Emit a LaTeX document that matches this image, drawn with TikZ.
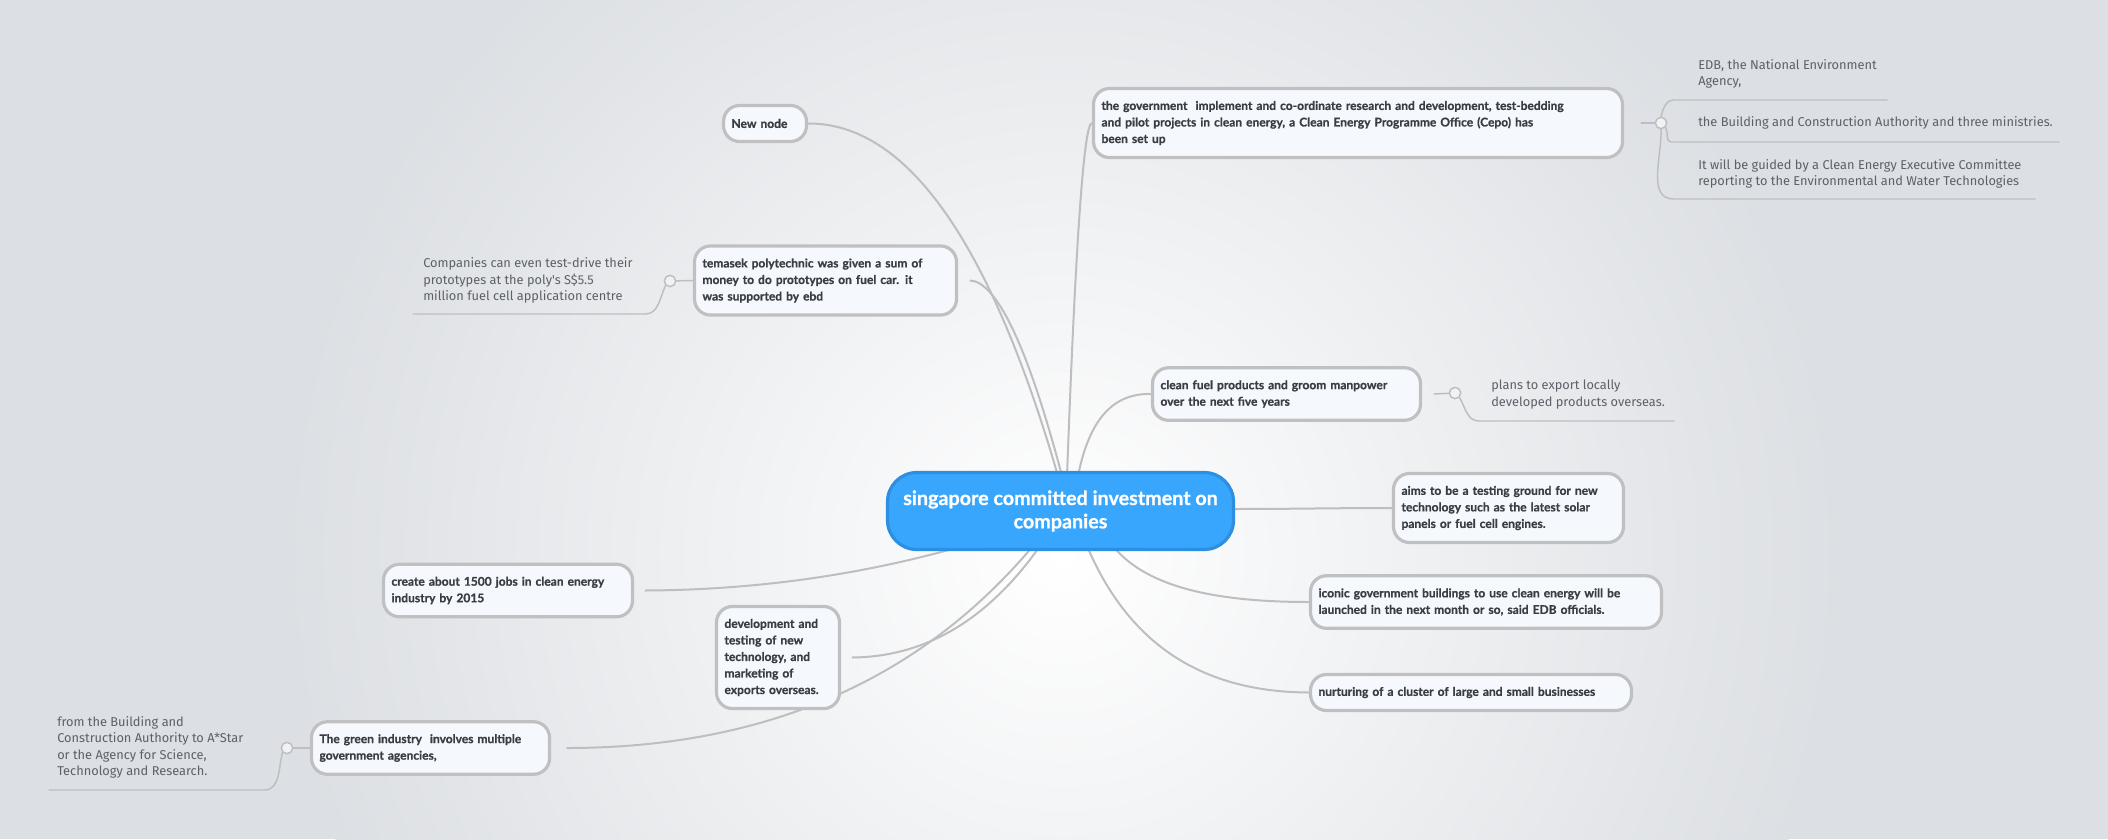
\documentclass[tikz,border=0pt]{standalone}
\usepackage{fontspec}
\newfontfamily\topicfont{Lato}[BoldFeatures={FakeBold=0.8}]
\newfontfamily\leaffont{Fira Sans}
\usetikzlibrary{positioning}
\definecolor{bgcol}{RGB}{220,223,227}
\definecolor{linkcol}{RGB}{190,190,192}
\definecolor{topicfill}{RGB}{245,249,254}
\definecolor{topicdraw}{RGB}{192,192,194}
\definecolor{topictext}{RGB}{58,62,68}
\definecolor{rootfill}{RGB}{56,166,252}
\definecolor{rootdraw}{RGB}{45,143,226}
\definecolor{leaftext}{RGB}{92,97,104}
\pgfdeclarelayer{bg}
\pgfdeclarelayer{links}
\pgfsetlayers{bg,links,main}

\begin{document}
\begin{tikzpicture}[
  x=0.75pt,
  y=-0.75pt,
  line cap=round,
  line join=round,
  topic/.style={draw=topicdraw,line width=2.4pt,fill=topicfill,rounded corners=12pt,
    text=topictext,font=\topicfont\bfseries\fontsize{9}{12.4}\selectfont,
    align=left,inner xsep=6pt,inner ysep=2pt},
  nlines/.style={minimum height=#1*12.4pt+14.6pt},
  roottopic/.style={draw=rootdraw,line width=2.4pt,fill=rootfill,rounded corners=22pt,
    text=white,font=\topicfont\bfseries\fontsize{14.8}{17.5}\selectfont,
    align=center,minimum width=259.5pt,minimum height=57.75pt},
  link/.style={linkcol,line width=1.5pt},
  leafline/.style={linkcol,line width=1.1pt},
  leaf/.style={anchor=west,align=left,inner sep=0pt,text=leaftext,
    font=\leaffont\fontsize{9.6}{12.4}\selectfont},
  knob/.style={circle,draw=linkcol,line width=1.1pt,fill=bgcol!40!white,
    minimum size=8.5pt,inner sep=0pt}
]
\path[use as bounding box] (0,0) rectangle (2108,839);

% background glow
\begin{pgfonlayer}{bg}
\fill[bgcol] (0,0) rectangle (2108,839);
\clip (0,0) rectangle (2108,839);
\shade[inner color=white,outer color=bgcol] (1062,555) circle[radius=780];
\end{pgfonlayer}

% central topic
\node[roottopic] (root) at (1060.5,511)
  {singapore committed investment on\\companies};

% main topics
\node[topic,nlines=1,text width=50.25pt] (newnode) at (765,123.5) {New node};
\node[topic,nlines=3,text width=184.5pt] (temasek) at (825.5,280.5)
  {temasek polytechnic was given a sum of\\money to do prototypes on fuel car. it\\was supported by ebd};
\node[topic,nlines=3,text width=384.75pt] (govt) at (1358,123)
  {the government~ implement and co-ordinate research and development, test-bedding\\and pilot projects in clean energy, a Clean Energy Programme Office (Cepo) has\\been set up};
\node[topic,nlines=2,text width=189pt] (cleanfuel) at (1286.5,394)
  {clean fuel products and groom manpower\\over the next five years};
\node[topic,nlines=3,text width=160.5pt] (aims) at (1508.5,508)
  {aims to be a testing ground for new\\technology such as the latest solar\\panels or fuel cell engines.};
\node[topic,nlines=2,text width=251.25pt] (iconic) at (1486,602)
  {iconic government buildings to use clean energy will be\\launched in the next month or so, said EDB officials.};
\node[topic,nlines=1,text width=228.75pt] (nurturing) at (1471,692.5)
  {nurturing of a cluster of large and small businesses};
\node[topic,nlines=2,text width=174.75pt] (create) at (508,590.5)
  {create about 1500 jobs in clean energy\\industry by 2015};
\node[topic,nlines=5,text width=80.25pt] (develop) at (778,657.5)
  {development and\\testing of new\\technology, and\\marketing of\\exports overseas.};
\node[topic,nlines=2,text width=166.5pt] (green) at (430.5,748)
  {The green industry~ involves multiple\\government agencies,};

% sub-topics
\node[leaf] (comp) at (423,280.5)
  {Companies can even test-drive their\\prototypes at the poly's S\$5.5\\million fuel cell application centre};
\node[leaf] (edb) at (1698,74) {EDB, the National Environment\\Agency,};
\node[leaf] (bca) at (1698,123)
  {the Building and Construction Authority and three ministries.};
\node[leaf] (guided) at (1698,174)
  {It will be guided by a Clean Energy Executive Committee\\reporting to the Environmental and Water Technologies};
\node[leaf] (plans) at (1491,394.5) {plans to export locally\\developed products overseas.};
\node[leaf] (gleaf) at (57,747.5)
  {from the Building and\\Construction Authority to A*Star\\or the Agency for Science,\\Technology and Research.};

% attach points
\coordinate (rtnew) at (1058,476);
\coordinate (rttem) at (1062,476);
\coordinate (rtgov) at (1067,476);
\coordinate (rtfuel) at (1078,476);
\coordinate (rtaims) at (1230,509);
\coordinate (rtcreate) at (963,546);
\coordinate (rtgreen) at (1033,546);
\coordinate (rtdev) at (1040,546);
\coordinate (rtnurt) at (1087,546);
\coordinate (rticon) at (1113,546);
\coordinate (temasekout) at ([xshift=8.7pt]temasek.east);
\coordinate (createout) at ([xshift=8pt]create.east);
\coordinate (developout) at ([xshift=8pt]develop.east);
\coordinate (greenout) at ([xshift=11.7pt]green.east);
\coordinate (govtout) at ([xshift=12.75pt]govt.east);
\coordinate (fuelout) at ([xshift=9pt]cleanfuel.east);

\coordinate (compa) at (645,314);   \coordinate (compb) at (413,314);
\coordinate (edba) at (1674,100);   \coordinate (edbb) at (1887,100);
\coordinate (bcaa) at (1671,142);   \coordinate (bcab) at (2059,142);
\coordinate (guida) at (1674,199);  \coordinate (guidb) at (2035,199);
\coordinate (plana) at (1479,421);  \coordinate (planb) at (1674,421);
\coordinate (gleafa) at (264,790);  \coordinate (gleafb) at (49,790);

% connectors
\begin{pgfonlayer}{links}
\draw[link] (newnode.east) .. controls (905.7,123) and (989.3,239) .. (rtnew);
\draw[link] (temasekout) .. controls (996,281) and (1027.3,344.3) .. (rttem);
\draw[link] (rtgov) .. controls (1075.7,239) and (1084,123) .. (govt.west);
\draw[link] (rtfuel) .. controls (1089.3,419) and (1113.3,393) .. (cleanfuel.west);
\draw[link] (rtaims) .. controls (1300,509) and (1330,508) .. (aims.west);
\draw[link] (rticon) .. controls (1144.3,585) and (1209.3,602) .. (iconic.west);
\draw[link] (rtnurt) .. controls (1129,645) and (1202.7,692) .. (nurturing.west);
\draw[link] (rtcreate) .. controls (854.3,577) and (747.7,590) .. (createout);
\draw[link] (rtdev) .. controls (986.7,621.7) and (923.3,657) .. (developout);
\draw[link] (rtgreen) .. controls (918.3,682.3) and (762.3,748) .. (greenout);
\end{pgfonlayer}

% sub-topic branches
\node[knob] (compdot) at (670,281) {};
\node[knob] (govdot) at (1661,123) {};
\node[knob] (fueldot) at (1455,393) {};
\node[knob] (greendot) at (287,748) {};

\draw[leafline] (compdot) -- (temasek.west);
\draw[leafline] (compdot.south west) to[out=-115,in=0] (compa) -- (compb);
\draw[leafline] (govtout) -- (govdot);
\draw[leafline] (govdot.north) to[out=75,in=180] (edba) -- (edbb);
\draw[leafline] (govdot.south east) to[out=-55,in=180] (bcaa) -- (bcab);
\draw[leafline] (govdot.south) to[out=-88,in=180] (guida) -- (guidb);
\draw[leafline] (fueldot) -- (fuelout);
\draw[leafline] (fueldot.south east) to[out=-60,in=180] (plana) -- (planb);
\draw[leafline] (greendot) -- (green.west);
\draw[leafline] (greendot.south west) to[out=-105,in=0] (gleafa) -- (gleafb);
\end{tikzpicture}
\end{document}
